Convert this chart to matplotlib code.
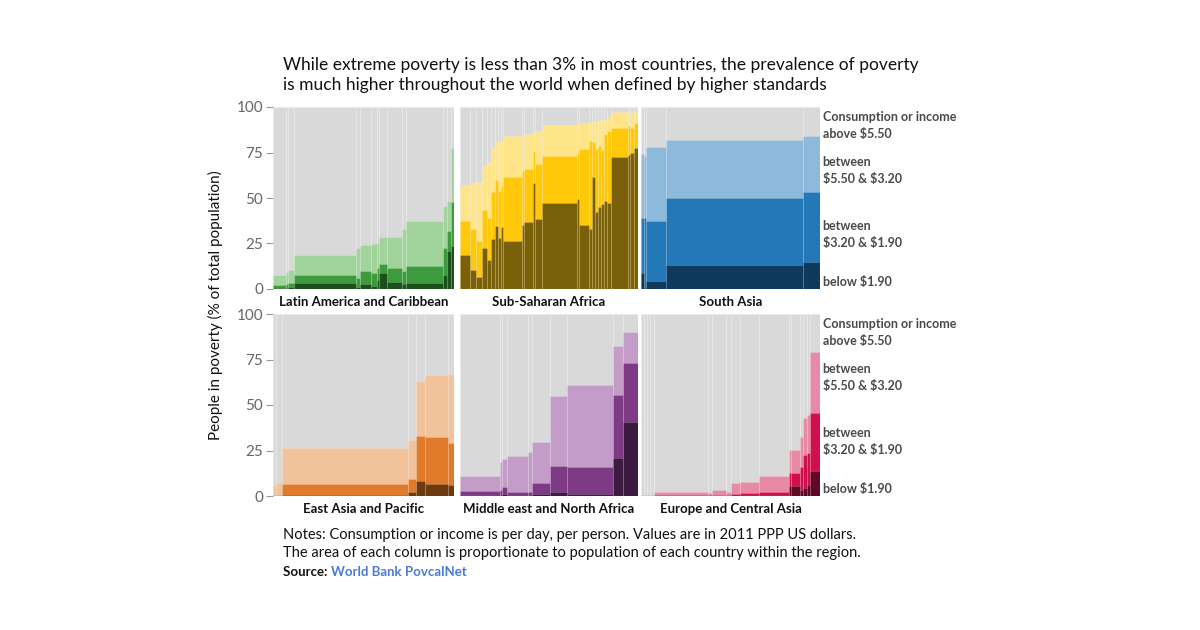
import numpy as np
import matplotlib
matplotlib.use("Agg")
from matplotlib import pyplot as plt

plt.rcParams['font.family'] = ['Lato', 'DejaVu Sans']

# population weights (relative column widths) and poverty rates (%) per country,
# countries sorted as in the picture
lac_pop = [40, 5, 18, 185, 12, 30, 18, 7, 25, 43, 12, 110, 13, 10, 10]
lac_190 = [0.7, 0.8, 1.3, 3.1, 1.3, 3.0, 1.8, 5.0, 8.7, 4.0, 2.6, 3.1, 7.7, 20.7, 23.4]
lac_320 = [2.2, 2.5, 3.1, 7.7, 6.3, 10.0, 9.0, 11.4, 13.6, 11.8, 10.0, 12.4, 22.5, 31.7, 48.0]
lac_550 = [7.7, 9.6, 10.5, 18.8, 22.5, 24.0, 24.7, 25.3, 28.4, 28.4, 32.7, 37.6, 45.6, 48.3, 77.5]

ssa_pop = [30, 17, 20, 15, 10, 13, 8, 9, 8, 55, 8, 25, 7, 22, 103, 7, 28, 10, 8, 10,
           9, 10, 8, 13, 50, 7, 10, 13]
ssa_190 = [18.5, 10.5, 6.8, 22.5, 16.0, 27.7, 34.5, 28.0, 34.0, 26.6, 35.4, 36.9, 58.0, 38.7,
           47.4, 49.3, 35.0, 32.7, 61.6, 42.4, 45.0, 46.5, 48.3, 47.4, 72.3, 73.8, 75.0, 77.5]
ssa_320 = [37.3, 32.7, 26.2, 43.2, 39.0, 53.5, 59.8, 53.9, 56.6, 61.6, 64.6, 65.9, 76.0, 68.6,
           73.2, 74.5, 77.0, 81.5, 80.5, 77.0, 78.8, 76.3, 85.0, 87.0, 88.6, 89.8, 88.6, 91.0]
ssa_550 = [57.2, 58.0, 59.0, 67.7, 69.6, 77.9, 81.5, 81.5, 81.5, 83.8, 84.3, 85.2, 86.0, 87.0,
           89.9, 90.8, 91.0, 91.6, 92.1, 92.1, 92.6, 92.9, 93.5, 94.5, 97.2, 97.2, 97.2, 97.2]

sa_pop = [10, 5, 60, 413, 50]
sa_190 = [8.7, 1.3, 4.6, 13.3, 14.8]
sa_320 = [39.0, 39.0, 37.6, 50.2, 53.5]
sa_550 = [74.0, 73.0, 77.9, 81.9, 84.3]

eap_pop = [10, 18, 372, 25, 27, 68, 18]
eap_190 = [0.0, 0.1, 0.4, 2.0, 8.2, 6.6, 6.0]
eap_320 = [0.5, 0.5, 6.6, 9.3, 33.0, 32.2, 29.3]
eap_550 = [6.0, 7.0, 26.2, 30.8, 63.2, 66.5, 67.0]

mena_pop = [120, 7, 15, 63, 12, 53, 50, 137, 30, 46]
mena_190 = [0.5, 0.7, 1.3, 0.4, 0.3, 0.9, 2.0, 1.3, 20.7, 40.5]
mena_320 = [2.7, 3.3, 5.1, 2.0, 2.4, 7.0, 16.7, 15.8, 55.5, 72.9]
mena_550 = [11.2, 18.9, 20.3, 22.2, 24.0, 29.9, 55.1, 61.0, 82.6, 90.3]

eca_pop = [8, 10, 10, 10, 162, 12, 43, 15, 28, 57, 90, 7, 26, 10, 10, 10, 30]
eca_190 = [0.0, 0.0, 0.0, 0.0, 0.1, 0.1, 0.1, 0.2, 0.2, 0.3, 0.5, 5.7, 5.7, 3.3, 4.2, 6.0, 13.7]
eca_320 = [0.1, 0.1, 0.1, 0.2, 0.4, 0.4, 0.6, 0.7, 0.9, 1.5, 2.4, 12.4, 12.4, 16.0, 22.5, 23.4, 45.4]
eca_550 = [0.3, 0.4, 0.5, 0.6, 2.0, 1.5, 3.3, 2.4, 7.0, 7.5, 11.2, 25.3, 25.3, 32.6, 42.7, 44.5, 79.0]

regions = [
    ("Latin America and Caribbean", lac_pop, lac_190, lac_320, lac_550,
     ["#1b4f1b", "#3d9b3d", "#a0d49b"]),
    ("Sub-Saharan Africa", ssa_pop, ssa_190, ssa_320, ssa_550,
     ["#7a6008", "#ffc80a", "#ffe58a"]),
    ("South Asia", sa_pop, sa_190, sa_320, sa_550,
     ["#0f3a5c", "#2378b8", "#8db9da"]),
    ("East Asia and Pacific", eap_pop, eap_190, eap_320, eap_550,
     ["#6b3a10", "#e07b2c", "#f2c29a"]),
    ("Middle east and North Africa", mena_pop, mena_190, mena_320, mena_550,
     ["#3d1a40", "#7f3a85", "#c39dc8"]),
    ("Europe and Central Asia", eca_pop, eca_190, eca_320, eca_550,
     ["#5e0a26", "#d0104c", "#e88aa5"]),
]

band_labels = ["Consumption or income\nabove \\$5.50", "between\n\\$5.50 & \\$3.20",
               "between\n\\$3.20 & \\$1.90", "below \\$1.90"]
band_y = [90, 65, 30, 4]

W, H = 1200, 630
fig = plt.figure(figsize=(12, 6.3), dpi=100)

col_x = [273, 460, 641]
col_w = [181, 178, 179]
row_top = [107, 314]
row_h = 182

for i, (name, pop, p190, p320, p550, cols) in enumerate(regions):
    r, c = divmod(i, 3)
    ax = fig.add_axes([col_x[c] / W, 1 - (row_top[r] + row_h) / H, col_w[c] / W, row_h / H])
    pop = np.asarray(pop, dtype=float)
    left = np.concatenate([[0], np.cumsum(pop)[:-1]])
    ax.bar(left, 100, pop, align='edge', color='#d9d9d9', edgecolor='#e9e9e9', lw=0.5)
    for vals, colr in zip([p550, p320, p190], cols[::-1]):
        ax.bar(left, vals, pop, align='edge', color=colr, edgecolor=(1, 1, 1, 0.22), lw=0.5)
    ax.set_xlim(0, pop.sum())
    ax.set_ylim(0, 100)
    for s in ax.spines.values():
        s.set_visible(False)
    ax.set_xticks([])
    if c == 0:
        ax.set_yticks([0, 25, 50, 75, 100])
        ax.tick_params(axis='y', length=5, color='#999999', labelcolor='#666666',
                       labelsize=11, pad=2)
    else:
        ax.set_yticks([])
    ax.text(0.5, -0.04, name, transform=ax.transAxes, ha='center', va='top',
            fontsize=9.5, fontweight='bold', color='#111111')
    if c == 2:
        for lab, yy in zip(band_labels, band_y):
            ax.text(1.015, yy, lab, transform=ax.get_yaxis_transform(), ha='left',
                    va='center', fontsize=9, fontweight='bold', color='#4a4a4a',
                    linespacing=1.5)

fig.text(215 / W, 1 - 305 / H, "People in poverty (% of total population)", rotation=90,
         ha='center', va='center', fontsize=11, color='#111111')

fig.text(283 / W, 1 - 75 / H,
         "While extreme poverty is less than 3% in most countries, the prevalence of poverty\n"
         "is much higher throughout the world when defined by higher standards",
         ha='left', va='center', fontsize=12.5, color='#111111', linespacing=1.25)

fig.text(283 / W, 1 - 535 / H,
         "Notes: Consumption or income is per day, per person. Values are in 2011 PPP US dollars.",
         ha='left', va='center', fontsize=10.5, color='#111111')
fig.text(283 / W, 1 - 553 / H,
         "The area of each column is proportionate to population of each country within the region.",
         ha='left', va='center', fontsize=10.5, color='#111111')
src = fig.text(283 / W, 1 - 572 / H, "Source: ", ha='left', va='center', fontsize=9.5,
               color='#111111', fontweight='bold')
fig.canvas.draw()
bb = src.get_window_extent()
fig.text(bb.x1 / W, 1 - 572 / H, "World Bank PovcalNet", ha='left', va='center',
         fontsize=9.5, color='#4a7bd0', fontweight='bold')

fig.savefig("out.png", dpi=100)
